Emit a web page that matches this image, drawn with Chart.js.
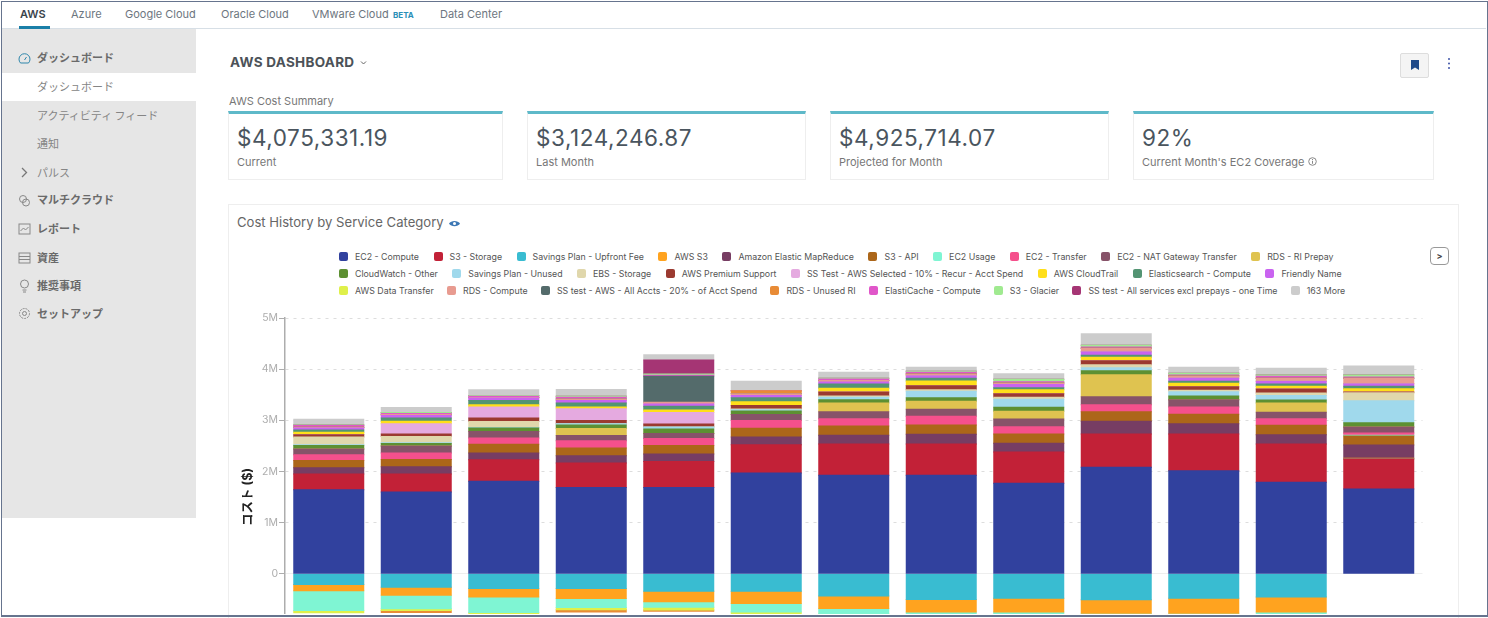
<!DOCTYPE html>
<html lang="ja">
<head>
<meta charset="utf-8">
<title>AWS Dashboard</title>
<script src="https://cdn.jsdelivr.net/npm/chart.js@4"></script>
<style>
  html, body { margin: 0; padding: 0; width: 1488px; height: 618px; overflow: hidden; background: #fff; }
  body { font-family: Inter, "Noto Sans CJK JP", sans-serif; color: #666; position: relative; }
  .abs { position: absolute; white-space: nowrap; line-height: 1; }
  .frame { position: absolute; left: 1px; top: 1px; width: 1485px; height: 613px; border: 1.5px solid #66748e; border-bottom-width: 2.5px; z-index: 5; pointer-events: none; }
  .tabbar { position: absolute; left: 2px; top: 28px; width: 1484px; height: 1px; background: #d7dfe6; }
  .tab { top: 9px; font-size: 11px; color: #6d7680; }
  .sidebar { position: absolute; left: 2px; top: 29px; width: 194px; height: 489px; background: #e6e6e6; }
  .side { left: 37px; font: 11px "Noto Sans CJK JP", sans-serif; color: #858585; }
  .side.b { font-weight: 700; color: #6a6a6a; }
  .icon { position: absolute; }
  .kpi { position: absolute; top: 111px; height: 65px; border: 1px solid #eeeeee; border-top: 3px solid #5eb9c9; box-sizing: content-box; }
  .kpi .val { position: absolute; left: 8px; top: 13px; font-size: 22.5px; letter-spacing: .55px; color: #4a555e; line-height: 1; white-space: nowrap; }
  .kpi .lab { position: absolute; left: 8px; top: 43px; font-size: 11px; color: #777; line-height: 1; white-space: nowrap; }
  .card { position: absolute; left: 228px; top: 204px; width: 1229px; height: 420px; border: 1px solid #eeeeee; }
  .chart-clip { position: absolute; left: 240px; top: 300px; width: 1190px; height: 314px; overflow: hidden; }
  .legend-row { position: absolute; left: 339px; display: flex; align-items: center; height: 12px; font-size: 8.8px; color: #555; white-space: nowrap; }
  .legend-item { display: flex; align-items: center; }
  .swatch { width: 9px; height: 9px; border-radius: 2px; margin-right: 7px; }
</style>
</head>
<body>
<div class="frame"></div>
<div class="tabbar"></div>
<div class="abs" style="left:19px;top:26px;width:31px;height:3px;background:#1a7fa8"></div>
<div class="abs tab" style="left:20px;color:#3a444c;font-weight:600">AWS</div>
<div class="abs tab" style="left:71px">Azure</div>
<div class="abs tab" style="left:125px">Google Cloud</div>
<div class="abs tab" style="left:221px">Oracle Cloud</div>
<div class="abs tab" style="left:312px">VMware Cloud</div>
<div class="abs" style="left:393px;top:11px;font-size:8px;font-weight:700;color:#2b8fb8">BETA</div>
<div class="abs tab" style="left:440px">Data Center</div>

<div class="sidebar"></div>
<div class="abs" style="left:2px;top:73px;width:194px;height:28px;background:#fff"></div>
<div class="abs side b" style="top:49px">ダッシュボード</div>
<div class="abs side" style="top:78px">ダッシュボード</div>
<div class="abs side" style="top:107px">アクティビティ フィード</div>
<div class="abs side" style="top:135px">通知</div>
<div class="abs side" style="top:164px">パルス</div>
<div class="abs side b" style="top:191px">マルチクラウド</div>
<div class="abs side b" style="top:220px">レポート</div>
<div class="abs side b" style="top:249px">資産</div>
<div class="abs side b" style="top:277px">推奨事項</div>
<div class="abs side b" style="top:305px">セットアップ</div>
<svg class="icon" style="left:18px;top:52px" width="13" height="13" viewBox="0 0 13 13" fill="none" stroke="#2e86ab"><path d="M2.5 11a5.5 5.5 0 1 1 8 0z"/><path d="M6.5 8l2-3"/></svg>
<svg class="icon" style="left:20px;top:167px" width="9" height="11" viewBox="0 0 9 11" fill="none" stroke="#777" stroke-width="1.3"><path d="M2 1l4.5 4.5L2 10"/></svg>
<svg class="icon" style="left:18px;top:194px" width="13" height="13" viewBox="0 0 13 13" fill="none" stroke="#888"><circle cx="5" cy="5" r="3.5"/><circle cx="8" cy="8.5" r="3.5"/></svg>
<svg class="icon" style="left:18px;top:223px" width="13" height="12" viewBox="0 0 13 12" fill="none" stroke="#888"><rect x="1" y="1" width="11" height="10"/><path d="M2.5 8l3-3 2 2 3-3"/></svg>
<svg class="icon" style="left:18px;top:252px" width="13" height="12" viewBox="0 0 13 12" fill="none" stroke="#888"><rect x="1" y="1" width="11" height="10"/><path d="M1 4.5h11M1 7.5h11"/></svg>
<svg class="icon" style="left:19px;top:279px" width="11" height="14" viewBox="0 0 11 14" fill="none" stroke="#888"><circle cx="5.5" cy="5" r="4"/><path d="M3.5 11h4M4 13h3"/></svg>
<svg class="icon" style="left:18px;top:307px" width="13" height="13" viewBox="0 0 13 13" fill="none" stroke="#888"><circle cx="6.5" cy="6.5" r="2"/><circle cx="6.5" cy="6.5" r="5" stroke-dasharray="2 1"/></svg>

<div class="abs" style="left:230px;top:56px;font-size:13.5px;font-weight:700;color:#4c5258;letter-spacing:.3px">AWS DASHBOARD</div>
<svg class="icon" style="left:360px;top:60px" width="7" height="6" viewBox="0 0 7 6" fill="none" stroke="#666"><path d="M1 1.5l2.5 2.5L6 1.5"/></svg>
<div class="abs" style="left:229px;top:96px;font-size:11px;color:#777">AWS Cost Summary</div>

<div class="kpi" style="left:228px;width:273px"><div class="val">$4,075,331.19</div><div class="lab">Current</div></div>
<div class="kpi" style="left:527px;width:277px"><div class="val">$3,124,246.87</div><div class="lab">Last Month</div></div>
<div class="kpi" style="left:830px;width:277px"><div class="val">$4,925,714.07</div><div class="lab">Projected for Month</div></div>
<div class="kpi" style="left:1133px;width:299px"><div class="val">92%</div><div class="lab">Current Month's EC2 Coverage</div></div>
<svg class="icon" style="left:1308px;top:157px" width="9" height="9" viewBox="0 0 9 9" fill="none" stroke="#888"><circle cx="4.5" cy="4.5" r="3.8"/><path d="M4.5 3.8v3M4.5 2v1"/></svg>

<div class="abs" style="left:1400px;top:53px;width:27px;height:23px;background:#f4f4f4;border:1px solid #ddd;border-radius:2px"></div>
<svg class="icon" style="left:1410px;top:60px" width="10" height="10" viewBox="0 0 10 10"><path d="M1 0h8v10L5 7.5 1 10z" fill="#1f4a8a"/></svg>
<svg class="icon" style="left:1447px;top:57px" width="4" height="13" viewBox="0 0 4 13" fill="#3f55a8"><circle cx="2" cy="2" r="1"/><circle cx="2" cy="6.5" r="1"/><circle cx="2" cy="11" r="1"/></svg>

<div class="card"></div>
<div class="abs" style="left:237px;top:216px;font-size:13.1px;color:#666">Cost History by Service Category</div>
<svg class="icon" style="left:449px;top:219px" width="11" height="9" viewBox="0 0 11 9"><path d="M0 4.5C2 1 9 1 11 4.5 9 8 2 8 0 4.5z" fill="#3d78b5"/><circle cx="5.5" cy="4.5" r="1.5" fill="#fff"/></svg>
<div class="abs" style="left:1430px;top:247px;width:17px;height:16px;border:1px solid #999;border-radius:4px;font-size:9px;font-weight:700;color:#444;text-align:center;line-height:16px;background:#fff">&gt;</div>

<div id="legend"></div>
<div class="chart-clip"><canvas id="costChart" width="1190" height="390" style="width:1190px;height:390px;display:block"></canvas></div>

<script>
// billing months, the axis labels are cut off in the screenshot
const months = ["1", "2", "3", "4", "5", "6", "7", "8", "9", "10", "11", "12", "13"];
const yTicks = [5, 4, 3, 2, 1, 0, -1, -2];

// cost per month in millions of dollars
const ec2Compute = [1.643, 1.597, 1.806, 1.688, 1.688, 1.969, 1.923, 1.923, 1.767, 2.08, 2.014, 1.786, 1.656];
const s3Storage = [0.306, 0.352, 0.424, 0.476, 0.508, 0.554, 0.613, 0.613, 0.613, 0.652, 0.717, 0.75, 0.587];
const savingsUpfront = [-0.209, -0.267, -0.287, -0.287, -0.345, -0.345, -0.437, -0.502, -0.482, -0.508, -0.482, -0.456, 0];
const awsS3 = [-0.124, -0.156, -0.169, -0.196, -0.202, -0.235, -0.241, -0.248, -0.267, -0.267, -0.293, -0.293, 0.013];
const emr = [0.124, 0.143, 0.13, 0.143, 0.143, 0.15, 0.169, 0.189, 0.169, 0.248, 0.202, 0.183, 0.261];
const s3Api = [0.143, 0.143, 0.169, 0.15, 0.169, 0.169, 0.183, 0.183, 0.183, 0.189, 0.183, 0.183, 0.176];
const ec2Usage = [-0.385, -0.261, -0.3, -0.176, -0.111, -0.17, -0.104, -0.065, -0.046, -0.04, -0.04, -0.065, 0.013];
const ec2Transfer = [0.111, 0.124, 0.124, 0.143, 0.137, 0.156, 0.143, 0.169, 0.143, 0.137, 0.143, 0.13, 0.046];
const natGateway = [0.111, 0.137, 0.13, 0.104, 0.098, 0.117, 0.137, 0.137, 0.15, 0.156, 0.143, 0.124, 0.117];
const rdsPrepay = [0, 0, 0, 0.137, 0, 0, 0.169, 0.156, 0.15, 0.43, 0, 0.183, 0];
const cloudWatch = [0.07, 0.052, 0.065, 0.065, 0.085, 0.065, 0.065, 0.072, 0.078, 0.078, 0.072, 0.059, 0.085];
const savingsUnused = [0.013, 0.013, 0.013, 0.026, 0.039, 0.026, 0.046, 0.124, 0.156, 0.059, 0.085, 0.085, 0.43];
const ebsStorage = [0.15, 0.124, 0.117, 0, 0, 0.013, 0.026, 0.033, 0.039, 0.059, 0.026, 0.052, 0.156];
const premiumSupport = [0.045, 0.046, 0.065, 0.065, 0.059, 0.072, 0.078, 0.078, 0.072, 0.078, 0.072, 0.078, 0.013];
const ssTest10 = [0.006, 0.202, 0.215, 0.228, 0.228, 0, 0, 0, 0, 0, 0, 0, 0];
const cloudTrail = [0.045, 0.046, 0.046, 0.033, 0.046, 0.072, 0.072, 0.091, 0.078, 0.065, 0.065, 0.052, 0.065];
const elasticsearch = [0.045, 0.065, 0.085, 0.078, 0.072, 0.078, 0.085, 0.052, 0.039, 0.039, 0.039, 0.046, 0.046];
const friendlyName = [0.039, 0.052, 0.046, 0.052, 0.046, 0.046, 0.039, 0.052, 0.065, 0.072, 0.065, 0.052, 0.052];
const dataTransfer = [-0.046, -0.033, -0.059, -0.046, -0.052, -0.059, -0.04, 0, -0.02, 0, 0, 0, 0];
const rdsCompute = [0.015, 0.015, 0.012, 0.03, 0.033, 0.03, 0.03, 0.033, 0.026, 0.065, 0.039, 0.059, 0.104];
const ssTest20 = [0, 0, 0, 0, 0.508, 0, 0, 0, 0, 0, 0, 0, 0];
const rdsUnused = [0, -0.039, 0, -0.046, -0.026, 0.059, 0, 0, 0, 0, 0, 0, 0];
const elastiCache = [0.03, 0.02, 0.025, 0.033, 0.02, 0, 0.028, 0.033, 0.026, 0.026, 0.02, 0.039, 0.025];
const s3Glacier = [0.011, 0.019, 0.015, 0.019, 0.026, 0, 0.014, 0.02, 0.046, 0.033, 0.033, 0.026, 0.04];
const ssOneTime = [0, 0, 0, 0, 0.274, 0, 0, 0, 0, 0, 0, 0, 0];
const moreServices = [0.111, 0.098, 0.111, 0.13, 0.104, 0.189, 0.117, 0.078, 0.111, 0.228, 0.117, 0.13, 0.176];

// label, values, colour, in legend order
const series = [
  ["EC2 - Compute", ec2Compute, "#31419e"],
  ["S3 - Storage", s3Storage, "#c22137"],
  ["Savings Plan - Upfront Fee", savingsUpfront, "#39bcd1"],
  ["AWS S3", awsS3, "#ffa31f"],
  ["Amazon Elastic MapReduce", emr, "#773d63"],
  ["S3 - API", s3Api, "#ac6619"],
  ["EC2 Usage", ec2Usage, "#7ff5d3"],
  ["EC2 - Transfer", ec2Transfer, "#f5508c"],
  ["EC2 - NAT Gateway Transfer", natGateway, "#875369"],
  ["RDS - RI Prepay", rdsPrepay, "#dfc350"],
  ["CloudWatch - Other", cloudWatch, "#5d9032"],
  ["Savings Plan - Unused", savingsUnused, "#a0d9ec"],
  ["EBS - Storage", ebsStorage, "#e0d7ac"],
  ["AWS Premium Support", premiumSupport, "#9b3a30"],
  ["SS Test - AWS Selected - 10% - Recur - Acct Spend", ssTest10, "#e5aae0"],
  ["AWS CloudTrail", cloudTrail, "#ffdf1a"],
  ["Elasticsearch - Compute", elasticsearch, "#539473"],
  ["Friendly Name", friendlyName, "#c963f0"],
  ["AWS Data Transfer", dataTransfer, "#dff04a"],
  ["RDS - Compute", rdsCompute, "#e89b90"],
  ["SS test - AWS - All Accts - 20% - of Acct Spend", ssTest20, "#546b6b"],
  ["RDS - Unused RI", rdsUnused, "#e88b36"],
  ["ElastiCache - Compute", elastiCache, "#e056c9"],
  ["S3 - Glacier", s3Glacier, "#a0ea90"],
  ["SS test - All services excl prepays - one Time", ssOneTime, "#a53574"],
  ["163 More", moreServices, "#cccccc"]
];

// how many legend entries sit on each row, and where
const legendRows = [10, 8, 8];
const legendRowTops = [250.5, 267.5, 284.5];
const legendRowGaps = [14.5, 14.5, 13.3];

Chart.defaults.font.family = "Inter, 'Noto Sans CJK JP', sans-serif";

const costChart = new Chart(document.getElementById("costChart"), {
  type: "bar",
  data: {
    labels: months,
    datasets: series.map(([label, data, color]) => ({
      label,
      data,
      backgroundColor: color,
      categoryPercentage: 0.8,
      barPercentage: 1,
      inflateAmount: 0.5
    }))
  },
  options: {
    responsive: false,
    animation: false,
    layout: { padding: { top: 18, right: 7.5, bottom: 14 } },
    plugins: { legend: { display: false }, tooltip: { enabled: false } },
    scales: {
      x: { stacked: true, display: false },
      y: {
        stacked: true,
        min: -2,
        max: 5,
        afterFit: (scale) => { scale.width = 45; },
        afterBuildTicks: (scale) => { scale.ticks = yTicks.map((value) => ({ value })); },
        title: {
          display: true,
          text: "コスト ($)",
          color: "#222",
          font: { size: 12.5, weight: "bold" },
          padding: { top: 1, bottom: 0 }
        },
        ticks: {
          color: "#adadad",
          font: { size: 10.5 },
          padding: 1,
          callback: (value) => (value === 0 ? "0" : value + "M")
        },
        border: {
          color: "#adadad",
          width: 1.5,
          dash: (ctx) => (ctx.tick && ctx.tick.value === 0 ? [] : [3, 5])
        },
        grid: {
          color: (ctx) => (ctx.tick.value === 0 ? "#eeeeee" : "#dddddd"),
          tickColor: "#adadad",
          tickLength: 6,
          tickBorderDash: [],
          lineWidth: 1
        }
      }
    }
  }
});

// html legend, taken from the chart's own datasets
const legendBox = document.getElementById("legend");
let datasetIndex = 0;
legendRows.forEach((count, row) => {
  const rowEl = document.createElement("div");
  rowEl.className = "legend-row";
  rowEl.style.top = legendRowTops[row] + "px";
  rowEl.style.gap = legendRowGaps[row] + "px";
  costChart.data.datasets.slice(datasetIndex, datasetIndex + count).forEach((dataset) => {
    const item = document.createElement("div");
    item.className = "legend-item";
    const swatch = document.createElement("div");
    swatch.className = "swatch";
    swatch.style.background = dataset.backgroundColor;
    const text = document.createElement("span");
    text.textContent = dataset.label;
    item.appendChild(swatch);
    item.appendChild(text);
    rowEl.appendChild(item);
  });
  legendBox.appendChild(rowEl);
  datasetIndex += count;
});
</script>
</body>
</html>
